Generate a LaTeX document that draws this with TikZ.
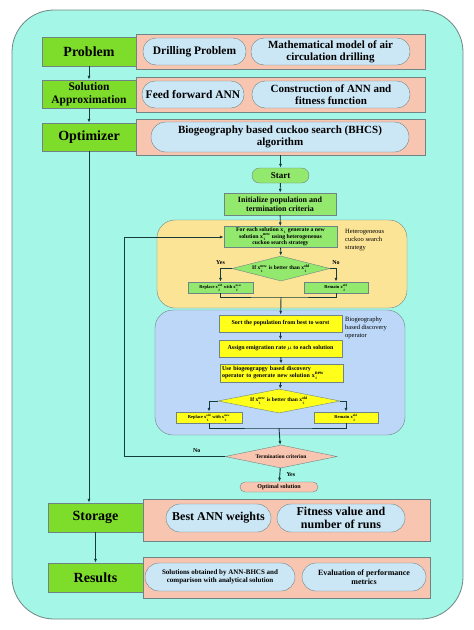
\documentclass[tikz,border=0pt]{standalone}
\usepackage{fontspec}
\setmainfont{Liberation Serif}
\usetikzlibrary{arrows.meta,shapes.geometric}
\definecolor{aquabg}{HTML}{A4F6E6}
\definecolor{limeg}{HTML}{7EDD2A}
\definecolor{flowg}{HTML}{93E86E}
\definecolor{salmonc}{HTML}{F8C5B0}
\definecolor{ellblue}{HTML}{CBE6F5}
\definecolor{orangereg}{HTML}{FCE497}
\definecolor{bluereg}{HTML}{BCD7F7}
\definecolor{yel}{HTML}{FFFF1A}
\definecolor{linec}{HTML}{143C3C}
\definecolor{rimc}{HTML}{6F8585}
\newcommand{\fsz}[2]{\fontsize{#1}{#2}\selectfont}
\newcommand{\xnew}{$\mathbf{x}_i^{\mathbf{new}}$}
\newcommand{\xold}{$\mathbf{x}_i^{\mathbf{old}}$}

\begin{document}
\begin{tikzpicture}[x=1pt, y=-1pt, >={Latex[length=4pt,width=3pt]},
	every node/.style={font=\bfseries, text=black},
	stage/.style={draw=rimc, fill=limeg, minimum width=94pt, minimum height=29pt, inner sep=1pt, align=center},
	band/.style={draw=rimc, fill=salmonc, inner sep=0pt},
	item/.style={draw=rimc, fill=ellblue, rounded corners=13pt, inner sep=0pt, align=center},
	flow/.style={draw=rimc, fill=flowg, inner sep=1pt, align=center},
	ybox/.style={draw=rimc, fill=yel, inner sep=1pt, align=center},
	dec/.style={diamond, draw=rimc, inner sep=0pt},
	side/.style={anchor=north west, font=\fsz{6.5}{7.8}, align=left, inner sep=0pt},
	conn/.style={draw=linec, line width=0.9pt}]
	\useasboundingbox (0,0) rectangle (474,630);
	% outer panel and the two sub-regions
	\draw[draw=rimc, fill=aquabg, line width=0.8pt, rounded corners=42pt] (12,10) rectangle (463,619);
	\draw[draw=rimc, fill=orangereg, rounded corners=18pt] (157,220) rectangle (407,308);
	\draw[draw=rimc, fill=bluereg, rounded corners=18pt] (155,310) rectangle (405,435);

	% stages on the left with their bands
	\node[band, minimum width=289pt, minimum height=35pt] (probB) at (280.5,51.5) {};
	\node[stage, font=\fsz{14}{16}\bfseries] (prob) at (89,51.5) {Problem};
	\node[item, minimum width=103pt, minimum height=27pt, font=\fsz{11.5}{13}\bfseries] (drill) at (194.5,51.5) {Drilling Problem};
	\node[item, minimum width=159pt, minimum height=27pt, font=\fsz{11}{12}\bfseries] (model) at (330.5,51.5) {Mathematical model of air\\circulation drilling};

	\node[band, minimum width=289pt, minimum height=35pt] (apprB) at (280.5,94.5) {};
	\node[stage, minimum height=28pt, font=\fsz{11.5}{12.5}\bfseries] (appr) at (89,94) {Solution\\Approximation};
	\node[item, minimum width=102pt, minimum height=27pt, font=\fsz{11.5}{13}\bfseries] (ffann) at (193,94.5) {Feed forward ANN};
	\node[item, minimum width=158pt, minimum height=27pt, font=\fsz{11}{12}\bfseries] (constr) at (331,94.5) {Construction of ANN and\\fitness function};

	\node[band, minimum width=289pt, minimum height=36pt] (optB) at (280.5,137) {};
	\node[stage, minimum height=28pt, font=\fsz{14}{16}\bfseries] (opt) at (89,137) {Optimizer};
	\node[item, rounded corners=15pt, minimum width=258pt, minimum height=30pt, font=\fsz{11}{12}\bfseries] (bhcs) at (280,137) {Biogeography based cuckoo search (BHCS)\\algorithm};

	\node[band, minimum width=287pt, minimum height=42pt] (storB) at (286.5,520) {};
	\node[stage, minimum width=95pt, font=\fsz{14}{16}\bfseries] (stor) at (95.5,517.5) {Storage};
	\node[item, rounded corners=14pt, minimum width=105pt, minimum height=28pt, font=\fsz{12}{13}\bfseries] (best) at (218.5,518) {Best ANN weights};
	\node[item, rounded corners=14pt, minimum width=128pt, minimum height=28pt, font=\fsz{12}{13}\bfseries] (fit) at (341,518) {Fitness value and\\number of runs};

	\node[band, minimum width=287pt, minimum height=41pt] (resB) at (286.5,577.5) {};
	\node[stage, minimum width=95pt, font=\fsz{14}{16}\bfseries] (res) at (95.5,577.5) {Results};
	\node[item, rounded corners=14pt, minimum width=150pt, minimum height=28pt, font=\fsz{7}{8.5}\bfseries] (sol) at (220,577) {Solutions obtained by ANN-BHCS and\\comparison with analytical solution};
	\node[item, rounded corners=14pt, minimum width=124pt, minimum height=28pt, font=\fsz{8}{9.5}\bfseries] (eval) at (364,577) {Evaluation of performance\\metrics};

	% flowchart of the optimizer
	\node[flow, rounded corners=7.5pt, minimum width=57pt, minimum height=15pt, font=\fsz{9}{10}\bfseries] (start) at (280.5,175.5) {Start};
	\node[flow, minimum width=112pt, minimum height=22pt, font=\fsz{8}{9}\bfseries] (init) at (280,204) {Initialize population and\\termination criteria};
	\node[flow, minimum width=113pt, minimum height=21pt, inner sep=0.5pt, font=\fsz{5.8}{6.6}\bfseries] (each) at (280.5,237) {For each solution $\mathbf{x}_i$ generate a new\\solution \xnew{} using heterogeneous\\cuckoo search strategy};
	\node[side] (hcs) at (345,229) {Heterogeneous\\cuckoo search\\strategy};
	\node[dec, fill=flowg, shape aspect=3.9, minimum width=98pt, minimum height=25pt, font=\fsz{5.5}{6}\bfseries] (d1) at (281,268.5) {If \xnew{} is better than \xold};
	\node[flow, minimum width=65pt, minimum height=11pt, font=\fsz{4.5}{5}\bfseries] (rep1) at (220.5,287.5) {Replace \xold{} with \xnew};
	\node[flow, minimum width=64pt, minimum height=11pt, font=\fsz{4.5}{5}\bfseries] (rem1) at (336,287.5) {Remain \xold};
	\coordinate (j1) at (281,297);

	\node[ybox, minimum width=123pt, minimum height=17pt, font=\fsz{6}{7}\bfseries] (sort) at (280.5,323.5) {Sort the population from best to worst};
	\node[side] (bdo) at (345,317) {Biogeography\\based discovery\\operator};
	\node[ybox, minimum width=123pt, minimum height=17pt, font=\fsz{6}{7}\bfseries] (emig) at (280.5,348.5) {Assign emigration rate $\mu$ to each solution};
	\node[ybox, minimum width=123pt, minimum height=18pt, text width=119pt, align=left, inner sep=0.5pt, font=\fsz{6}{7.2}\bfseries] (disc) at (281.5,373) {Use biogeograpgy based discovery\\operator to generate new solution \xnew};
	\node[dec, fill=yel, shape aspect=5, minimum width=122pt, minimum height=24pt, font=\fsz{5.5}{6}\bfseries] (d2) at (279,401) {If \xnew{} is better than \xold};
	\node[ybox, minimum width=66pt, minimum height=11pt, font=\fsz{4.5}{5}\bfseries] (rep2) at (209,417.5) {Replace \xold{} with \xnew};
	\node[ybox, minimum width=64pt, minimum height=11pt, font=\fsz{4.5}{5}\bfseries] (rem2) at (346,417.5) {Remain \xold};
	\coordinate (j2) at (279,428);

	\node[dec, fill=salmonc, shape aspect=4.9, minimum width=112pt, minimum height=23pt, font=\fsz{5.5}{6}\bfseries] (term) at (281,456.5) {Termination criterion};
	\node[band, rounded corners=5pt, minimum width=78pt, minimum height=10pt, font=\fsz{6}{7}\bfseries] (best sol) at (279,487) {Optimal solution};

	% connectors
	\draw[conn, ->] (prob) -- (appr);
	\draw[conn, ->] (appr) -- (opt);
	\draw[conn, ->] (opt.south) -- (opt.south |- stor.north);
	\draw[conn, ->] (stor) -- (res);
	\draw[conn, ->] (optB.south -| start) -- (start);
	\draw[conn, ->] (start) -- (init);
	\draw[conn, ->] (init) -- (each);
	\draw[conn, ->] (each) -- (d1);
	\draw[conn, ->] (d1.west) -| (rep1.north) node[pos=0.5, above, font=\fsz{6}{7}\bfseries] {Yes};
	\draw[conn, ->] (d1.east) -| (rem1.north) node[pos=0.5, above, font=\fsz{6}{7}\bfseries] {No};
	\draw[conn] (rep1.south) |- (j1) -| (rem1.south);
	\draw[conn, ->] (j1) -- (sort);
	\draw[conn, ->] (sort) -- (emig);
	\draw[conn, ->] (emig) -- (disc);
	\draw[conn, ->] (disc) -- (d2);
	\draw[conn, ->] (d2.west) -| (rep2.north);
	\draw[conn, ->] (d2.east) -| (rem2.north);
	\draw[conn] (rep2.south) |- (j2) -| (rem2.south);
	\draw[conn, ->] (j2) -- (term);
	\draw[conn, ->] (term.west) -- ++(-100,0) node[pos=0.28, above, font=\fsz{6}{7}\bfseries] {No} |- (each.west);
	\draw[conn, ->] (term) -- (best sol) node[midway, right=3pt, font=\fsz{6}{7}\bfseries] {Yes};
\end{tikzpicture}
\end{document}
